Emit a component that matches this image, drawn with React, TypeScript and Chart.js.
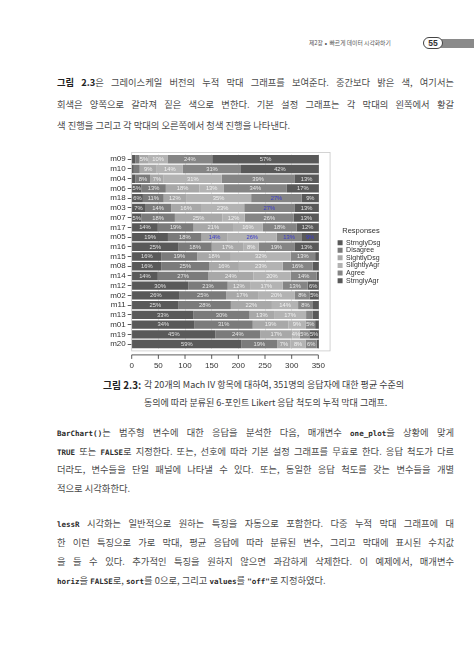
import { useEffect, useRef } from "react";
import type { CSSProperties, ReactNode } from "react";
import { Chart, registerables } from "chart.js";
import type { Plugin } from "chart.js";

Chart.register(...registerables);

// rows top to bottom, sorted by mean agreement
const ITEMS = [
  "m09", "m10", "m04", "m06", "m18", "m03", "m07", "m17", "m05", "m16",
  "m15", "m08", "m14", "m12", "m02", "m11", "m13", "m01", "m19", "m20",
];
const RESPONSES = ["StrnglyDsg", "Disagree", "SlghtlyDsg", "SlightlyAgr", "Agree", "StrnglyAgr"];

// counts of the 351 respondents per response
const STRNGLY_DSG = [7, 4, 7, 18, 21, 25, 18, 49, 68, 88, 56, 56, 49, 106, 90, 88, 116, 118, 157, 206];
const DISAGREE = [7, 11, 28, 46, 39, 49, 63, 67, 63, 62, 67, 89, 95, 74, 87, 98, 105, 109, 84, 67];
const SLGHTLY_DSG = [18, 32, 25, 63, 42, 56, 89, 74, 49, 60, 63, 56, 84, 42, 60, 77, 46, 67, 60, 25];
const SLIGHTLY_AGR = [35, 49, 109, 46, 122, 81, 42, 56, 92, 28, 112, 82, 70, 61, 69, 49, 60, 32, 14, 28];
const AGREE = [84, 109, 136, 118, 95, 94, 92, 63, 46, 67, 46, 56, 49, 47, 28, 28, 12, 18, 18, 21];
const STRNGLY_AGR = [200, 146, 46, 60, 32, 46, 47, 42, 33, 46, 7, 12, 4, 21, 17, 11, 12, 7, 18, 4];

const X_TICKS = [0, 50, 100, 150, 200, 250, 300, 350];
const N_RESPONDENTS = 351;

const RESPONSE_COLORS = ["#595959", "#7b7b7b", "#a8a8a8", "#b3b3b3", "#858585", "#595959"];
// a few value labels come out blue in the printed figure
const BLUE_LABELS = ["m18:4", "m03:4", "m05:2", "m05:3", "m05:4", "m05:5"];

const X_MAX = 385; // room between panel and legend
const FRAME_MAX = 372; // right edge of the panel box

const SANS = '"Liberation Sans", Arial, sans-serif';
Chart.defaults.font.family = SANS;

const panelFrame: Plugin<"bar"> = {
  id: "panelFrame",
  beforeDatasetsDraw(chart) {
    const { ctx, chartArea: a } = chart;
    const x = chart.scales.x;
    const right = x.getPixelForValue(FRAME_MAX);
    ctx.save();
    ctx.strokeStyle = "#c8c8c8";
    ctx.lineWidth = 0.8;
    ctx.strokeRect(a.left, a.top - 2, right - a.left, a.bottom - a.top + 4);

    // R style axis line with ticks under the box
    const y0 = a.bottom + 6;
    ctx.strokeStyle = "#333";
    ctx.beginPath();
    ctx.moveTo(x.getPixelForValue(X_TICKS[0]), y0);
    ctx.lineTo(x.getPixelForValue(X_TICKS[X_TICKS.length - 1]), y0);
    X_TICKS.forEach((v) => {
      const px = x.getPixelForValue(v);
      ctx.moveTo(px, y0);
      ctx.lineTo(px, y0 + 4);
    });
    ctx.stroke();
    ctx.restore();
  },
};

const segmentLabels: Plugin<"bar"> = {
  id: "segmentLabels",
  afterDatasetsDraw(chart) {
    const { ctx } = chart;
    ctx.save();
    ctx.font = `5.8px ${SANS}`;
    ctx.textAlign = "center";
    ctx.textBaseline = "middle";
    chart.data.datasets.forEach((ds, di) => {
      const meta = chart.getDatasetMeta(di);
      meta.data.forEach((el, i) => {
        const v = ds.data[i] as number;
        const pct = Math.round((v / N_RESPONDENTS) * 100);
        if (pct < 4) return;
        const { x, base, y } = el.getProps(["x", "base", "y"], true) as any;
        ctx.fillStyle = BLUE_LABELS.includes(`${ITEMS[i]}:${di}`) ? "#3c3cd0" : "rgba(255,255,255,0.82)";
        ctx.fillText(`${pct}%`, (x + base) / 2, y + 0.3);
      });
    });
    ctx.restore();
  },
};

const page: CSSProperties = {
  position: "absolute",
  left: 0,
  top: 0,
  width: 474,
  height: 647,
  background: "#fff",
  overflow: "hidden",
  fontFamily: '"Noto Sans CJK KR", "Noto Sans", sans-serif',
  color: "#4a4a4a",
};
const code: CSSProperties = {
  fontFamily: '"DejaVu Sans Mono", "Liberation Mono", monospace',
  fontWeight: 700,
  fontSize: 7.5,
  color: "#2a2a2a",
};
const bold: CSSProperties = { fontWeight: 700, color: "#222" };

function Line({ y, last, children }: { y: number; last?: boolean; children: ReactNode }) {
  return (
    <div
      style={{
        position: "absolute",
        left: 57,
        top: y - 7,
        width: 397,
        height: 14,
        lineHeight: "14px",
        fontSize: 9.3,
        textAlign: "justify",
        textAlignLast: last ? "left" : "justify",
      }}
    >
      {children}
    </div>
  );
}

function C({ children }: { children: ReactNode }) {
  return <span style={code}>{children}</span>;
}

export default function App() {
  const chartRef = useRef<HTMLCanvasElement>(null);

  useEffect(() => {
    if (!chartRef.current) return;
    const series = [STRNGLY_DSG, DISAGREE, SLGHTLY_DSG, SLIGHTLY_AGR, AGREE, STRNGLY_AGR];

    const chartInstance = new Chart(chartRef.current, {
      type: "bar",
      data: {
        labels: ITEMS,
        datasets: series.map((data, i) => ({
          label: RESPONSES[i],
          data,
          backgroundColor: RESPONSE_COLORS[i],
          borderWidth: 0,
          barPercentage: 0.86,
          categoryPercentage: 1,
        })),
      },
      options: {
        animation: false,
        responsive: false,
        indexAxis: "y",
        events: [],
        layout: { padding: { top: 8.4, left: 0, right: 0, bottom: 4 } },
        plugins: {
          tooltip: { enabled: false },
          legend: {
            position: "right",
            align: "center",
            fullSize: false,
            maxWidth: 48,
            title: {
              display: true,
              text: "Responses",
              color: "#333",
              font: { size: 7.5, family: SANS },
              padding: { top: 9, bottom: 2 },
            },
            labels: {
              boxWidth: 5,
              boxHeight: 5,
              padding: 0.6,
              color: "#333",
              font: { size: 7, family: SANS },
            },
          },
        },
        scales: {
          x: {
            stacked: true,
            min: 0,
            max: X_MAX,
            afterBuildTicks: (s) => {
              s.ticks = X_TICKS.map((value) => ({ value }));
            },
            afterFit: (s) => {
              s.height = 25.1;
            },
            ticks: { color: "#333", font: { size: 8 }, padding: 12 },
            grid: { color: "#dadada", lineWidth: 0.7, drawTicks: false },
            border: { display: false },
          },
          y: {
            stacked: true,
            afterFit: (s) => {
              s.width = 36.7;
            },
            ticks: { color: "#333", font: { size: 8 }, padding: 2, autoSkip: false },
            grid: {
              drawOnChartArea: false,
              offset: false,
              tickLength: 4,
              tickColor: "#333",
              color: "#333",
              lineWidth: 0.8,
            },
            border: { display: false },
          },
        },
      },
      plugins: [panelFrame, segmentLabels],
    });

    return () => {
      chartInstance.destroy();
    };
  }, []);

  return (
    <div style={page}>
      {/* running head */}
      <div style={{ position: "absolute", left: 309, top: 37.5, fontSize: 5.8, lineHeight: "10px", color: "#555", whiteSpace: "nowrap" }}>
        제2장 ∘ 빠르게 데이터 시각화하기
      </div>
      <div style={{ position: "absolute", left: 438, top: 38.5, width: 36, height: 9, background: "#8a8a8a" }} />
      <div
        style={{
          position: "absolute",
          left: 423,
          top: 37,
          width: 18,
          height: 10,
          border: "1.2px solid #444",
          borderRadius: 6,
          background: "#fff",
          fontFamily: SANS,
          fontWeight: 700,
          fontSize: 8.5,
          lineHeight: "10px",
          textAlign: "center",
          color: "#333",
        }}
      >
        55
      </div>

      <Line y={82}>
        <span style={bold}>그림 2.3</span>은 그레이스케일 버전의 누적 막대 그래프를 보여준다. 중간보다 밝은 색, 여기서는
      </Line>
      <Line y={104}>회색은 양쪽으로 갈라져 짙은 색으로 변한다. 기본 설정 그래프는 각 막대의 왼쪽에서 황갈</Line>
      <Line y={125} last>
        색 진행을 그리고 각 막대의 오른쪽에서 청색 진행을 나타낸다.
      </Line>

      <canvas ref={chartRef} width={290} height={232} style={{ position: "absolute", left: 95, top: 146, width: 290, height: 232 }} />

      <div style={{ position: "absolute", left: 103, top: 378, fontSize: 9.8, lineHeight: "14px", ...bold, whiteSpace: "nowrap" }}>
        그림 2.3:
      </div>
      <div style={{ position: "absolute", left: 144, top: 378, fontSize: 9, lineHeight: "14px", color: "#3a3a3a", whiteSpace: "nowrap" }}>
        각 20개의 Mach IV 항목에 대하여, 351명의 응답자에 대한 평균 수준의
      </div>
      <div style={{ position: "absolute", left: 144, top: 396, fontSize: 9, lineHeight: "14px", color: "#3a3a3a", whiteSpace: "nowrap" }}>
        동의에 따라 분류된 6-포인트 Likert 응답 척도의 누적 막대 그래프.
      </div>

      <Line y={432}>
        <C>BarChart()</C>는 범주형 변수에 대한 응답을 분석한 다음, 매개변수 <C>one_plot</C>을 상황에 맞게
      </Line>
      <Line y={451}>
        <C>TRUE</C> 또는 <C>FALSE</C>로 지정한다. 또는, 선호에 따라 기본 설정 그래프를 무효로 한다. 응답 척도가 다르
      </Line>
      <Line y={469}>더라도, 변수들을 단일 패널에 나타낼 수 있다. 또는, 동일한 응답 척도를 갖는 변수들을 개별</Line>
      <Line y={488} last>
        적으로 시각화한다.
      </Line>

      <Line y={523}>
        <C>lessR</C> 시각화는 일반적으로 원하는 특징을 자동으로 포함한다. 다중 누적 막대 그래프에 대
      </Line>
      <Line y={542}>한 이런 특징으로 가로 막대, 평균 응답에 따라 분류된 변수, 그리고 막대에 표시된 수치값</Line>
      <Line y={561}>을 들 수 있다. 추가적인 특징을 원하지 않으면 과감하게 삭제한다. 이 예제에서, 매개변수</Line>
      <Line y={580} last>
        <C>horiz</C>을 <C>FALSE</C>로, <C>sort</C>를 0으로, 그리고 <C>values</C>를 <C>"off"</C>로 지정하였다.
      </Line>
    </div>
  );
}
